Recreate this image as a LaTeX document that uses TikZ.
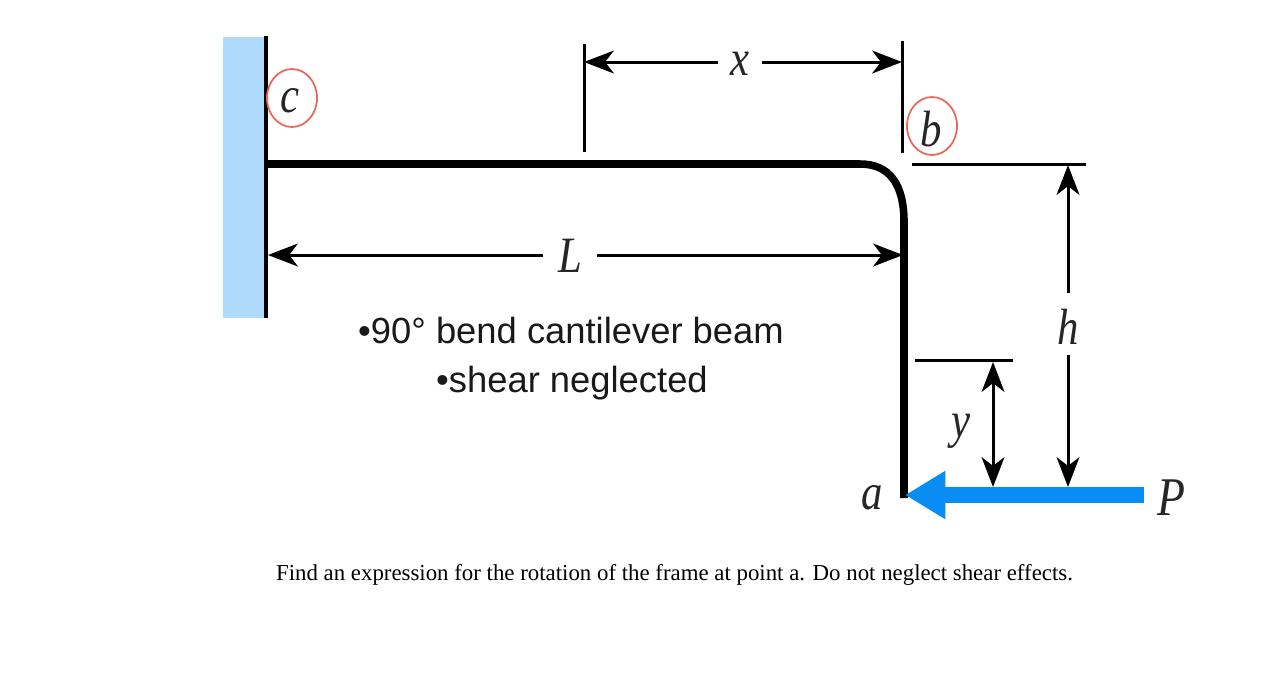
\documentclass[tikz,border=0pt]{standalone}
\usepackage{fontspec}
\setmainfont{Liberation Serif}
\newfontfamily\labelsans{Liberation Sans}
\newfontfamily\labelserif[FakeStretch=0.84]{Liberation Serif}
\usepackage{xcolor}
\usetikzlibrary{arrows.meta,shapes.geometric}
\definecolor{wallblue}{HTML}{AEDAFD}
\definecolor{loadblue}{HTML}{0A8CF5}
\definecolor{ringred}{HTML}{E8685C}
\tikzset{
  dimtip/.tip={Stealth[length=17pt,width=13pt,inset=5pt]},
  dimline/.style={line width=1.7pt,-dimtip},
  tickline/.style={line width=1.7pt},
  letter/.style={inner sep=0pt,font=\labelserif\fontsize{29}{29}\selectfont\itshape,black!85},
  ring/.style={draw=ringred,line width=1pt,ellipse,minimum width=28.5pt,minimum height=33pt,inner sep=0pt},
  note/.style={font=\labelsans\fontsize{20.7}{20.7}\selectfont,black!90}
}
\begin{document}
\begin{tikzpicture}[x=0.02cm,y=-0.02cm]
\useasboundingbox (0,0) rectangle (1273,681);
% Wall
\fill[wallblue] (223,37) rectangle (265,318);
\coordinate (walltop) at (266,36);
\coordinate (wallbot) at (266,318);
\draw[line width=2pt] (walltop) -- (wallbot);

% Frame
\coordinate (c) at (266,164);
\coordinate (a) at (904,498);
\draw[line width=4.3pt] (c) -- (860,164) .. controls (890,164) and (904,185) .. (904,222) -- (a);

% Extension lines
\coordinate (xleft) at (584,62);
\coordinate (xright) at (902,62);
\draw[tickline] (584,44) coordinate (xlt) -- (584,152) coordinate (xlb);
\draw[tickline] (902,41) coordinate (xrt) -- (902,153) coordinate (xrb);
\draw[tickline] (912,164) coordinate (hl) -- (1086,164) coordinate (hr);
\draw[tickline] (915,360) coordinate (yl) -- (1013,360) coordinate (yr);

% Labels on the dimensions
\node[letter] (xlab) at (740,64) {x};
\node[letter] (Llab) at (570,256) {L};
\node[letter] (hlab) at (1068,327) {h};
\node[letter] (ylab) at (961,431) {y};
\node[letter] (alab) at (872,498) {a};
\node[letter,font=\labelserif\fontsize{31}{31}\selectfont\itshape] (Plab) at (1171,498) {P};

% Dimension x
\draw[dimline] (718,62) coordinate (x1) -- (xleft);
\draw[dimline] (762,62) coordinate (x2) -- (xright);

% Dimension L
\coordinate (Lleft) at (268,255);
\coordinate (Lright) at (903,255);
\draw[dimline] (543,255) coordinate (L1) -- (Lleft);
\draw[dimline] (597,255) coordinate (L2) -- (Lright);

% Dimension h
\coordinate (htop) at (1068,165);
\coordinate (hbot) at (1068,487);
\draw[dimline] (1068,293) coordinate (h1) -- (htop);
\draw[dimline] (1068,355) coordinate (h2) -- (hbot);

% Dimension y
\coordinate (ytop) at (993,362);
\coordinate (ybot) at (993,487);
\draw[dimline,dimtip-dimtip] (ytop) -- (ybot);

% Load
\coordinate (Ptail) at (1144,495);
\coordinate (Ptip) at (905,495);
\draw[loadblue,line width=9pt,-{Triangle[length=23pt,width=26pt]}] (Ptail) -- (Ptip);

% Circled points
\node[ring] (cring) at (292,98) {};
\node[letter] (clab) at (290,101) {c};
\node[ring] (bring) at (932,126) {};
\node[letter] (blab) at (931,129) {b};

% Notes
\node[note] (note1) at (571,330) {\textbullet 90\textdegree\ bend cantilever beam};
\node[note] (note2) at (572,383) {\textbullet shear neglected};

\node[font=\fontsize{13}{13}\selectfont] (task) at (674.5,575) {Find an expression for the rotation of the frame at point a. Do not neglect shear effects.};
\end{tikzpicture}
\end{document}
